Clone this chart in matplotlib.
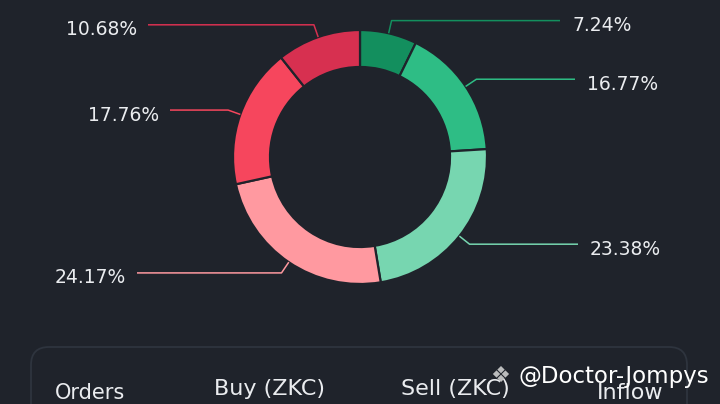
import numpy as np
import matplotlib
matplotlib.use('Agg')
import matplotlib.pyplot as plt
from matplotlib.patches import FancyBboxPatch

# -----------------------------------------------------------------------------
# data (clockwise from 12 o'clock)
# -----------------------------------------------------------------------------
shares = [7.24, 16.77, 23.38, 24.17, 17.76, 10.68]
labels = ['7.24%', '16.77%', '23.38%', '24.17%', '17.76%', '10.68%']
colors = ['#138f5e', '#2ebd85', '#77d6b0', '#ff99a0', '#f6465d', '#d73050']

headers = ['Orders', 'Buy (ZKC)', 'Sell (ZKC)', 'Inflow']

# -----------------------------------------------------------------------------
# layout (pixel coordinates, y down)
# -----------------------------------------------------------------------------
W, H = 720, 404
bg = '#1f232b'
txt = '#eaecef'
cx, cy = 360, 157
r_out, ring = 127, 37
r_elbow = 140
line_end = [560, 575, 578, 137, 170, 148]   # where each leader line stops

fig = plt.figure(figsize=(W / 100, H / 100), dpi=100, facecolor=bg)
ax = fig.add_axes([0, 0, 1, 1])
ax.set_facecolor(bg)

# donut: startangle -90 + inverted y axis -> starts at top, runs clockwise
ax.pie(shares, colors=colors, startangle=-90, counterclock=True,
       center=(cx, cy), radius=r_out,
       wedgeprops=dict(width=ring, edgecolor=bg, linewidth=1.6))

ax.set_xlim(0, W)
ax.set_ylim(H, 0)
ax.set_aspect('equal')
ax.axis('off')

# leader lines + percentage labels
cum = np.cumsum(shares) - np.array(shares) / 2
for frac, lab, col, xe in zip(cum / sum(shares), labels, colors, line_end):
    th = np.deg2rad(-90 + 360 * frac)
    x0, y0 = cx + r_out * np.cos(th), cy + r_out * np.sin(th)
    x1, y1 = cx + r_elbow * np.cos(th), cy + r_elbow * np.sin(th)
    ax.plot([x0, x1, xe], [y0, y1, y1], color=col, lw=1.1,
            solid_capstyle='butt')
    right = xe > cx
    ax.text(xe + 12 if right else xe - 11, y1 + 5, lab, color=txt,
            fontsize=13.5, ha='left' if right else 'right', va='center')

# bottom table card (cut off by the image edge)
card = FancyBboxPatch((31, 347), 656, 90,
                      boxstyle='round,pad=0,rounding_size=18',
                      facecolor='none', edgecolor='#2e343e', lw=1.3)
ax.add_patch(card)

hx = [55, 214, 401, 597]
hy = [393, 389, 389, 393]
hs = [15, 16, 16, 16]
for h, x, y, s in zip(headers, hx, hy, hs):
    ax.text(x, y, h, color=txt, fontsize=s, ha='left', va='center')

# watermark over the right part of the header row
ax.text(500, 376, '\u2756', color='#d8d8d8', fontsize=16, ha='center',
        va='center', alpha=0.85)
ax.text(519, 377, '@Doctor-Jompys', color='white', fontsize=16.5,
        ha='left', va='center')

fig.savefig('out.png', dpi=100, facecolor=bg)
